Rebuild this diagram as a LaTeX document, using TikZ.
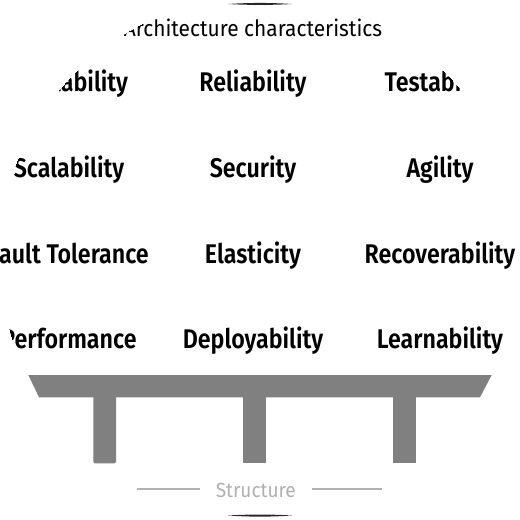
\documentclass[tikz,border=0pt]{standalone}
\usepackage{fontspec}
\setmainfont{Fira Sans}
\newfontfamily\labelfont[FakeStretch=0.86]{Fira Sans SemiBold}
\newfontfamily\titlefont[FakeStretch=0.93]{Fira Sans}
\definecolor{slab}{HTML}{808080}
\definecolor{struct}{HTML}{B0B0B0}
\tikzset{
  charlabel/.style={anchor=base, inner sep=0pt, font=\labelfont\fontsize{27}{31}\selectfont, text=black},
  titlelabel/.style={anchor=base, inner sep=0pt, font=\titlefont\fontsize{22.5}{26}\selectfont, text=black},
  structlabel/.style={anchor=base, inner sep=0pt, font=\titlefont\fontsize{20.5}{24}\selectfont, text=struct},
  structline/.style={draw=struct, line width=2pt},
  slabshape/.style={fill=slab, draw=none}
}
\begin{document}
\begin{tikzpicture}[x=1pt,y=-1pt]
\useasboundingbox (0,0) rectangle (520,520);
\begin{scope}
\clip (260,257) circle (261);
\node[titlelabel] (title) at (253,36) {Architecture characteristics};
\node[charlabel] (c11) at (69,91) {Availability};
\node[charlabel] (c12) at (253,91) {Reliability};
\node[charlabel] (c13) at (440,91) {Testability};
\node[charlabel] (c21) at (69,177) {Scalability};
\node[charlabel] (c22) at (253,177) {Security};
\node[charlabel] (c23) at (440,177) {Agility};
\node[charlabel] (c31) at (69,263) {Fault Tolerance};
\node[charlabel] (c32) at (253,263) {Elasticity};
\node[charlabel] (c33) at (440,263) {Recoverability};
\node[charlabel] (c41) at (69,348) {Performance};
\node[charlabel] (c42) at (253,348) {Deployability};
\node[charlabel] (c43) at (440,348) {Learnability};
\end{scope}
% bridge
\fill[slabshape] (28.3,375) -- (491.7,375) -- (480,397.3) -- (39,397.3) -- cycle;
\fill[slabshape, rounded corners=1.5pt] (93.3,396) -- (116,396) -- (116,463.3) -- (93.3,463.3) -- cycle;
\fill[slabshape] (243,396) rectangle (266,463.3);
\fill[slabshape] (393,396) rectangle (415.5,463.3);
\node[structlabel] (st) at (255.8,497.3) {Structure};
\coordinate (l1) at (137,489.3);
\coordinate (l2) at (200,489.3);
\coordinate (r1) at (311.7,489.3);
\coordinate (r2) at (381.7,489.3);
\draw[structline] (l1) -- (l2);
\draw[structline] (r1) -- (r2);
\fill[black!85] (228,4) .. controls (250,2.6) and (270,2.6) .. (292,4) .. controls (270,5.2) and (250,5.2) .. cycle;
\fill[black!85] (228,515.5) .. controls (250,517) and (270,517) .. (292,515.5) .. controls (270,514.2) and (250,514.2) .. cycle;
\end{tikzpicture}
\end{document}
